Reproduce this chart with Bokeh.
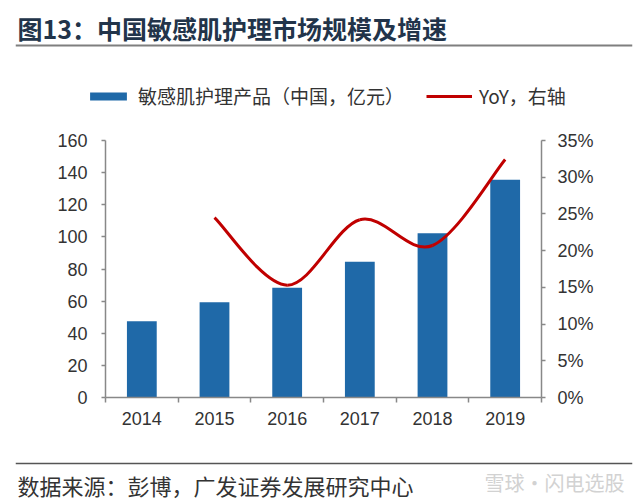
from bokeh.plotting import figure
from bokeh.layouts import column
from bokeh.models import (Range1d, LinearAxis, FixedTicker, NumeralTickFormatter,
                          Legend, LegendItem, Label, ColumnDataSource)
from bokeh.embed import file_html
from bokeh.resources import INLINE

# ---------------- data ----------------
years = ["2014", "2015", "2016", "2017", "2018", "2019"]
market_size = [47.5, 59.3, 68.3, 84.5, 102.3, 135.5]          # 亿元
yoy_years = ["2015", "2016", "2017", "2018", "2019"]
yoy = [0.245, 0.153, 0.242, 0.207, 0.324]                      # 右轴
left_ticks = [0, 20, 40, 60, 80, 100, 120, 140, 160]
right_ticks = [0, 0.05, 0.10, 0.15, 0.20, 0.25, 0.30, 0.35]

title_text = "图13：中国敏感肌护理市场规模及增速"
bar_label = "敏感肌护理产品（中国，亿元）"
line_label = "YoY，右轴"
source_text = "数据来源：彭博，广发证券发展研究中心"
watermark_text = "雪球·闪电选股"

# ---------------- style ----------------
BLUE = "#1f69a8"
RED = "#c00000"
AXIS = "#888888"
TXT = "#333333"
CJK = "Noto Sans CJK SC"
LAT = "Liberation Sans"

W = 640
HEAD_H, MAIN_H, FOOT_H = 118, 337, 47


def blank_fig(h, y0, y1):
    f = figure(width=W, height=h, output_backend="svg", toolbar_location=None,
               x_range=Range1d(15, 632), y_range=Range1d(y1, y0),
               x_axis_type=None, y_axis_type=None, frame_align=False,
               min_border_left=15, min_border_right=8, min_border_top=0, min_border_bottom=0)
    f.outline_line_color = None
    f.xgrid.visible = False
    f.ygrid.visible = False
    return f


idx = list(range(len(years)))
yx = [years.index(y) for y in yoy_years]

# ---------------- header (title, rule, legend) ----------------
head = blank_fig(HEAD_H, 0, HEAD_H)
head.add_layout(Label(x=17, y=27, text=title_text, text_font=CJK, text_font_size="25px",
                      text_font_style="bold", text_color="#22344a", text_baseline="middle"))
head.hspan(y=[45], line_color="#7f7f7f", line_width=2)

# legend keys: hidden copies of the chart's bar and line glyphs
key_bar = head.vbar(x=idx, top=market_size, width=0.41, fill_color=BLUE, line_color=None, visible=False)
key_line = head.line(x=yx, y=yoy, line_color=RED, line_width=3, visible=False)
legend = Legend(items=[LegendItem(label=bar_label, renderers=[key_bar]),
                       LegendItem(label=line_label, renderers=[key_line])],
                location=(70, 9), orientation="horizontal",
                glyph_width=46, glyph_height=10, label_height=18,
                label_text_font=CJK, label_text_font_size="19px", label_text_color=TXT,
                label_standoff=7, spacing=22, padding=0, margin=0,
                inactive_fill_alpha=0,
                border_line_color=None, background_fill_alpha=0)
head.add_layout(legend)

# ---------------- main chart ----------------
p = figure(width=W, height=MAIN_H, output_backend="svg", toolbar_location=None,
           x_range=Range1d(-0.5, len(years) - 0.5), y_range=Range1d(left_ticks[0], left_ticks[-1]),
           x_axis_type=None, y_axis_type=None, frame_align=False,
           min_border_left=105, min_border_right=99, min_border_top=22, min_border_bottom=58)
p.outline_line_color = None
p.xgrid.visible = False
p.ygrid.visible = False
p.extra_y_ranges = {"pct": Range1d(right_ticks[0], right_ticks[-1])}

bars = p.vbar(x=idx, top=market_size, width=0.41, fill_color=BLUE, line_color=None)

# smoothed YoY curve (cubic bezier segments through the data points)
n = len(yx)
P = [(yx[i], yoy[i]) for i in range(n)]
seg = dict(x0=[], y0=[], x1=[], y1=[], cx0=[], cy0=[], cx1=[], cy1=[])
for i in range(n - 1):
    pm = P[max(i - 1, 0)]
    p0 = P[i]
    p1 = P[i + 1]
    p2 = P[min(i + 2, n - 1)]
    seg["x0"].append(p0[0]); seg["y0"].append(p0[1])
    seg["x1"].append(p1[0]); seg["y1"].append(p1[1])
    seg["cx0"].append(p0[0] + (p1[0] - pm[0]) / 6); seg["cy0"].append(p0[1] + (p1[1] - pm[1]) / 6)
    seg["cx1"].append(p1[0] - (p2[0] - p0[0]) / 6); seg["cy1"].append(p1[1] - (p2[1] - p0[1]) / 6)
curve = p.bezier(x0="x0", y0="y0", x1="x1", y1="y1", cx0="cx0", cy0="cy0", cx1="cx1", cy1="cy1",
                 source=ColumnDataSource(seg), line_color=RED, line_width=3, y_range_name="pct")


def style_axis(ax):
    ax.axis_line_color = AXIS
    ax.axis_line_width = 1.5
    ax.major_tick_line_color = AXIS
    ax.major_tick_line_width = 1.5
    ax.minor_tick_line_color = AXIS
    ax.minor_tick_line_width = 1.5
    ax.major_label_text_font = LAT
    ax.major_label_text_font_size = "18px"
    ax.major_label_text_color = TXT


xaxis = LinearAxis(ticker=FixedTicker(ticks=idx, minor_ticks=[i - 0.5 for i in range(len(years) + 1)]),
                   major_label_overrides={i: y for i, y in enumerate(years)})
style_axis(xaxis)
xaxis.major_tick_in = 0
xaxis.major_tick_out = 0
xaxis.minor_tick_in = 0
xaxis.minor_tick_out = 5
xaxis.major_label_standoff = 9
p.add_layout(xaxis, "below")

yaxis = LinearAxis(ticker=FixedTicker(ticks=left_ticks))
style_axis(yaxis)
yaxis.major_tick_in = 0
yaxis.major_tick_out = 4
yaxis.minor_tick_line_color = None
yaxis.major_label_standoff = 14
p.add_layout(yaxis, "left")

raxis = LinearAxis(y_range_name="pct", ticker=FixedTicker(ticks=right_ticks),
                   formatter=NumeralTickFormatter(format="0%"))
style_axis(raxis)
raxis.major_tick_in = 0
raxis.major_tick_out = 4
raxis.minor_tick_line_color = None
raxis.major_label_standoff = 12
p.add_layout(raxis, "right")

# ---------------- footer ----------------
foot = blank_fig(FOOT_H, 455, 502)
foot.hspan(y=[463], line_color="#555555", line_width=1.5)
foot.add_layout(Label(x=17, y=484, text=source_text, text_font=CJK, text_font_size="22px",
                      text_color=TXT, text_baseline="middle"))
foot.add_layout(Label(x=624, y=482, text=watermark_text, text_font=CJK, text_font_size="20px",
                      text_color="#d2d2d2", text_baseline="middle", text_align="right"))

layout = column(head, p, foot, spacing=0)
open("out.html", "w").write(file_html(layout, INLINE))
